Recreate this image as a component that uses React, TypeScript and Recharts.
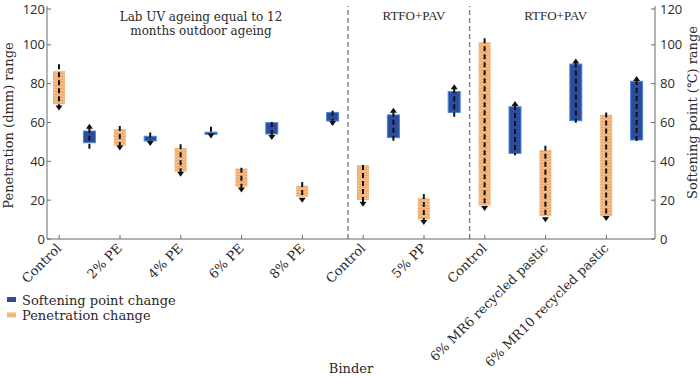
import React from 'react';
import { ComposedChart, Bar, XAxis, YAxis, ReferenceLine, Legend } from 'recharts';

// ---------- data ----------
const binders = [
  'Control',
  '2% PE',
  '4% PE',
  '6% PE',
  '8% PE',
  'Control',
  '5% PP',
  'Control',
  '6% MR6 recycled pastic',
  '6% MR10 recycled pastic',
];
const penBoxLow = [69.4, 48.1, 34.7, 26.9, 21.8, 20.1, 10.1, 17.2, 11.8, 11.8];
const penBoxHigh = [86.5, 56.6, 46.8, 36.3, 27.5, 38.0, 21.0, 101.3, 45.8, 63.9];
const penWhiskerLow = [66.2, 45.6, 32.0, 24.0, 18.7, 16.6, 7.2, 14.4, 8.6, 9.3];
const penWhiskerHigh = [90.0, 58.2, 48.8, 36.7, 29.4, 38.1, 23.2, 103.4, 48.0, 65.2];
const penArrow = ['down', 'down', 'down', 'down', 'down', 'down', 'down', 'down', 'down', 'down'];

const spBoxLow = [49.6, 50.5, 53.9, 54.1, 60.8, 52.2, 65.2, 44.1, 60.9, 51.0];
const spBoxHigh = [55.6, 52.9, 55.0, 59.9, 65.2, 63.9, 75.9, 68.1, 90.1, 81.2];
const spWhiskerLow = [46.3, 47.9, 51.8, 51.0, 58.2, 50.1, 63.0, 43.1, 59.9, 49.6];
const spWhiskerHigh = [59.3, 54.8, 57.8, 60.3, 66.1, 67.6, 79.7, 71.1, 93.0, 83.9];
const spArrow = ['up', 'down', 'down', 'down', 'down', 'up', 'up', 'up', 'up', 'up'];

const yTicks = [0, 20, 40, 60, 80, 100, 120];
const groupEnds = ['b4', 'b6'];

const data = binders.map((b, i) => ({
  id: `b${i}`,
  binder: b,
  pen: [penBoxLow[i], penBoxHigh[i]],
  penWhisker: [penWhiskerLow[i], penWhiskerHigh[i]],
  penDir: penArrow[i],
  sp: [spBoxLow[i], spBoxHigh[i]],
  spWhisker: [spWhiskerLow[i], spWhiskerHigh[i]],
  spDir: spArrow[i],
}));

// ---------- styles ----------
const BLUE = '#2C4C9E';
const BLUE_EDGE = '#4F86D4';
const ORANGE_BASE = '#F8CB9C';
const ORANGE_LINE = '#EFA362';
const AXIS = '#6b6b6b';
const TEXT = '#2a2a2a';
const SERIF = '"DejaVu Serif", serif';
const TIMES = '"Liberation Serif", serif';
const SANS = '"Open Sans", sans-serif';
const BAR_SIZE = 12;
const BAR_GAP = 18.4;
const ORANGE_SHIFT = (BAR_SIZE + BAR_GAP) / 2;

const Hatch = ({ id }: { id: string }) => (
  <defs>
    <pattern id={id} patternUnits="userSpaceOnUse" width={4} height={3}>
      <rect width={4} height={3} fill={ORANGE_BASE} />
      <path d="M0 2.5 L2 0.5 L4 2.5" fill="none" stroke={ORANGE_LINE} strokeWidth={1.2} />
    </pattern>
  </defs>
);

const makeShape = (kind: 'pen' | 'sp') => (props: any) => {
  const { x, y, width, height, payload, index } = props;
  if (x == null || y == null || !payload) return null;
  const box = kind === 'pen' ? payload.pen : payload.sp;
  const wh = kind === 'pen' ? payload.penWhisker : payload.spWhisker;
  const dir = kind === 'pen' ? payload.penDir : payload.spDir;
  const top = Math.min(y, y + height);
  const h = Math.abs(height);
  const lo = Math.min(box[0], box[1]);
  const hi = Math.max(box[0], box[1]);
  const ppu = h / (hi - lo);
  const yOf = (v: number) => top + (hi - v) * ppu;
  const cx = x + width / 2;
  const yTop = yOf(wh[1]);
  const yBot = yOf(wh[0]);
  const pid = `hatch-${kind}-${index}`;
  const lineTop = dir === 'up' ? yTop + 4 : yTop;
  const lineBot = dir === 'down' ? yBot - 4 : yBot;
  const arrow =
    dir === 'down'
      ? `${cx - 3.5},${yBot - 5} ${cx + 3.5},${yBot - 5} ${cx},${yBot}`
      : `${cx - 3.5},${yTop + 5} ${cx + 3.5},${yTop + 5} ${cx},${yTop}`;
  return (
    <g>
      {kind === 'pen' && <Hatch id={pid} />}
      <rect
        x={x}
        y={top}
        width={width}
        height={Math.max(h, 1)}
        fill={kind === 'pen' ? `url(#${pid})` : BLUE}
        stroke={kind === 'pen' ? 'none' : BLUE_EDGE}
        strokeWidth={1}
      />
      <line x1={cx} x2={cx} y1={lineTop} y2={lineBot} stroke="#111" strokeWidth={2} strokeDasharray="5 3" />
      <polygon points={arrow} fill="#111" />
    </g>
  );
};

const XTick = (props: any) => {
  const { x, y, payload } = props;
  const i = parseInt(String(payload.value).slice(1), 10);
  const label = binders[i] ?? '';
  const tx = x - ORANGE_SHIFT;
  return (
    <g>
      <line x1={tx} x2={tx} y1={y} y2={y - 4} stroke={AXIS} />
      <text
        transform={`translate(${tx + 3},${y + 10}) rotate(-45)`}
        textAnchor="end"
        fontFamily={SERIF}
        fontSize={13}
        fill={TEXT}
      >
        {label}
      </text>
    </g>
  );
};

const YTickLeft = (props: any) => {
  const { x, y, payload } = props;
  return (
    <g>
      <line x1={x + 2} x2={x + 6} y1={y} y2={y} stroke={AXIS} />
      <text x={x} y={y} dy="0.35em" textAnchor="end" fontFamily={SANS} fontSize={13} fill={TEXT}>
        {payload.value}
      </text>
    </g>
  );
};

const YTickRight = (props: any) => {
  const { x, y, payload } = props;
  return (
    <g>
      <line x1={x - 5} x2={x - 9} y1={y} y2={y} stroke={AXIS} />
      <text x={x} y={y} dy="0.35em" textAnchor="start" fontFamily={SANS} fontSize={13} fill={TEXT}>
        {payload.value}
      </text>
    </g>
  );
};

const LegendContent = () => (
  <svg width={200} height={36} style={{ display: 'block' }}>
    <Hatch id="legend-hatch" />
    <rect x={7} y={7} width={9} height={5} fill={BLUE} />
    <text x={22} y={15} fontFamily={SERIF} fontSize={13} fill={TEXT}>
      Softening point change
    </text>
    <rect x={7} y={22.5} width={9} height={5} fill="url(#legend-hatch)" />
    <text x={22} y={30} fontFamily={SERIF} fontSize={13} fill={TEXT}>
      Penetration change
    </text>
  </svg>
);

const leftAxisLabel = (p: any) => {
  const vb = p.viewBox || { x: 0, y: 6, width: 47, height: 233 };
  const cx = vb.x + 13;
  const cy = vb.y + vb.height / 2 + 3;
  return (
    <text transform={`translate(${cx},${cy}) rotate(-90)`} textAnchor="middle" fontFamily={SERIF} fontSize={13} fill={TEXT}>
      Penetration (dmm) range
    </text>
  );
};

const rightAxisLabel = (p: any) => {
  const vb = p.viewBox || { x: 655, y: 6, width: 45, height: 233 };
  const cx = vb.x + 42;
  const cy = vb.y + vb.height / 2 - 10;
  return (
    <text transform={`translate(${cx},${cy}) rotate(-90)`} textAnchor="middle" fontFamily={SERIF} fontSize={13} fill={TEXT}>
      Softening point (℃) range
    </text>
  );
};

const firstSepLabel = (p: any) => {
  const vb = p.viewBox || { x: 348, y: 6 };
  return (
    <g>
      <text x={vb.x - 147} y={21} textAnchor="middle" fontFamily={SERIF} fontSize={12} fill={TEXT}>
        Lab UV ageing equal to 12
      </text>
      <text x={vb.x - 147} y={35} textAnchor="middle" fontFamily={SERIF} fontSize={12} fill={TEXT}>
        months outdoor ageing
      </text>
      <text x={vb.x + 66} y={20} textAnchor="middle" fontFamily={TIMES} fontSize={13} fill={TEXT}>
        RTFO+PAV
      </text>
    </g>
  );
};

const secondSepLabel = (p: any) => {
  const vb = p.viewBox || { x: 470, y: 6 };
  return (
    <text x={vb.x + 86} y={20} textAnchor="middle" fontFamily={TIMES} fontSize={13} fill={TEXT}>
      RTFO+PAV
    </text>
  );
};

export default function App() {
  return (
    <div style={{ position: 'absolute', left: 0, top: 0, width: 700, height: 377, background: '#fff' }}>
      <ComposedChart
        width={700}
        height={377}
        data={data}
        margin={{ top: 6, right: 0, bottom: 0, left: 0 }}
        barGap={BAR_GAP}
      >
        <XAxis
          dataKey="id"
          interval={0}
          tickLine={false}
          tickSize={0}
          tickMargin={0}
          height={138}
          padding={{ left: -3, right: 3 }}
          axisLine={{ stroke: AXIS }}
          tick={(p: any) => <XTick {...p} />}
          label={{
            value: 'Binder',
            position: 'insideBottom',
            offset: 4,
            style: { fontFamily: SERIF, fontSize: 13, fill: TEXT },
          }}
        />
        <YAxis
          yAxisId="left"
          domain={[0, 120]}
          ticks={yTicks}
          width={47}
          tickLine={false}
          tickSize={0}
          tickMargin={2}
          axisLine={{ stroke: AXIS }}
          tick={(p: any) => <YTickLeft {...p} />}
          label={leftAxisLabel}
        />
        <YAxis
          yAxisId="right"
          orientation="right"
          domain={[0, 120]}
          ticks={yTicks}
          width={45}
          tickLine={false}
          tickSize={0}
          tickMargin={5}
          axisLine={{ stroke: AXIS }}
          tick={(p: any) => <YTickRight {...p} />}
          label={rightAxisLabel}
        />
        <ReferenceLine
          x={groupEnds[0]}
          position="end"
          yAxisId="left"
          stroke="#777"
          strokeWidth={1.3}
          strokeDasharray="5 3"
          label={firstSepLabel}
        />
        <ReferenceLine
          x={groupEnds[1]}
          position="end"
          yAxisId="left"
          stroke="#777"
          strokeWidth={1.3}
          strokeDasharray="5 3"
          label={secondSepLabel}
        />
        <Bar
          dataKey="pen"
          name="Penetration change"
          yAxisId="left"
          barSize={BAR_SIZE}
          fill={ORANGE_LINE}
          shape={makeShape('pen')}
          isAnimationActive={false}
        />
        <Bar
          dataKey="sp"
          name="Softening point change"
          yAxisId="right"
          barSize={BAR_SIZE}
          fill={BLUE}
          shape={makeShape('sp')}
          isAnimationActive={false}
        />
        <Legend
          layout="vertical"
          align="center"
          verticalAlign="middle"
          wrapperStyle={{ left: 0, top: 290, width: 200 }}
          content={LegendContent}
        />
      </ComposedChart>
    </div>
  );
}
